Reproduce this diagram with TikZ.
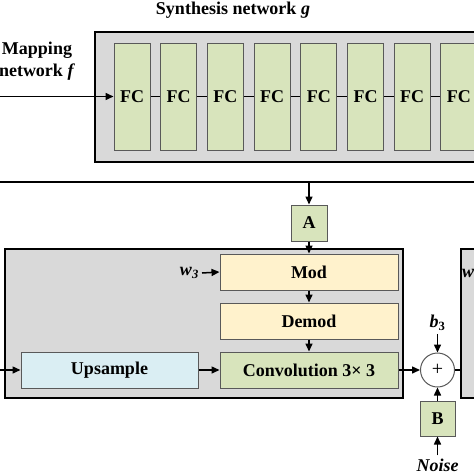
\documentclass[tikz,border=0pt]{standalone}
\usepackage{fontspec}
\setmainfont{Liberation Serif}
\usetikzlibrary{arrows.meta}
\definecolor{boxgray}{HTML}{D9D9D9}
\definecolor{fcgreen}{HTML}{D8E4BC}
\definecolor{modyellow}{HTML}{FFF2CC}
\definecolor{upblue}{HTML}{DAEEF3}
\definecolor{edgegray}{HTML}{595959}
\begin{document}
\begin{tikzpicture}[x=1pt,y=-1pt,
  every node/.style={font=\fontsize{18}{22}\selectfont\bfseries, inner sep=0pt},
  outerbox/.style={draw=black, line width=1.8pt, fill=boxgray, rectangle},
  fcbox/.style={draw=edgegray, line width=1pt, fill=fcgreen, rectangle, minimum width=36pt, minimum height=107pt},
  blockbox/.style={draw=edgegray, line width=1pt, rectangle, minimum width=178pt, minimum height=36pt},
  smallbox/.style={draw=edgegray, line width=1pt, fill=fcgreen, rectangle, minimum size=35pt},
  arr/.style={line width=1.5pt, -{Triangle[length=8pt,width=7pt]}},
  ln/.style={line width=1.5pt},
  lbl/.style={font=\fontsize{18}{22}\selectfont\bfseries\itshape}
]
\useasboundingbox (0,0) rectangle (474,474);
\clip (0,0) rectangle (474,474);

% title
\node[anchor=base] (title) at (233,14) {Synthesis network \textit{g}};
\node[align=center, font=\fontsize{18}{21.5}\selectfont\bfseries] (mapping) at (37,61) {Mapping\\network \textit{f}};

% top block
\node[outerbox, minimum width=395pt, minimum height=130pt] (synth) at (292.5,97) {};
\foreach \i in {1,...,8} {
  \node[fcbox] (fc\i) at ({132+(\i-1)*46.7},96.5) {FC};
}
\foreach \i/\j in {1/2,2/3,3/4,4/5,5/6,6/7,7/8} {
  \draw[line width=1pt] (fc\i.east) -- (fc\j.west);
}
\coordinate (inf) at (0,96.5);
\draw[arr] (inf) -- (fc1.west);

% horizontal w line
\coordinate (wl) at (0,182);
\coordinate (wr) at (474,182);
\coordinate (wa) at (309,182);
\draw[ln] (wl) -- (wr);

% A
\node[smallbox, minimum size=36pt] (A) at (309,223) {A};
\draw[arr] (wa) -- (A.north);

% second block
\node[outerbox, minimum width=398pt, minimum height=149pt] (blk) at (204,323.5) {};
\node[blockbox, fill=modyellow] (mod) at (309,272) {Mod};
\node[blockbox, fill=modyellow] (demod) at (309,321) {Demod};
\node[blockbox, fill=fcgreen] (conv) at (309,370) {Convolution 3× 3};
\node[blockbox, fill=upblue, minimum width=177pt] (up) at (109.5,370) {Upsample};

\draw[arr] (A.south) -- (mod.north);
\draw[arr] (mod.south) -- (demod.north);
\draw[arr] (demod.south) -- (conv.north);
\draw[arr] (up.east) -- (conv.west);
\coordinate (inu) at (0,370);
\draw[arr] (inu) -- (up.west);

\node[lbl, anchor=east] (w3) at (199,273) {w\textsubscript{3}};
\draw[arr] (w3.east) ++(3,0) coordinate (w3s) (w3s) -- (mod.west);

% adder
\node[circle, draw=edgegray, line width=1pt, fill=white, minimum size=34pt, font=\fontsize{20}{20}\selectfont] (add) at (437.5,370) {+};
\draw[arr] (conv.east) -- (add.west);
\node[lbl] (b3) at (437.5,323) {b\textsubscript{\upshape 3}};
\draw[arr] (b3.south) ++(0,3) coordinate (b3s) (b3s) -- (add.north);
\node[smallbox] (B) at (437.5,418.5) {B};
\draw[arr] (B.north) -- (add.south);
\node[lbl] (noise) at (437.5,465) {Noise};
\draw[arr] (noise.north) ++(0,-3) coordinate (ns) (ns) -- (B.south);

% next block
\node[outerbox, minimum width=29pt, minimum height=149pt] (blk2) at (475.5,323.5) {};
\node[lbl, anchor=west] (w4) at (462,273) {w};
\draw[ln] (add.east) -- (add.east -| blk2.west);
\end{tikzpicture}
\end{document}
